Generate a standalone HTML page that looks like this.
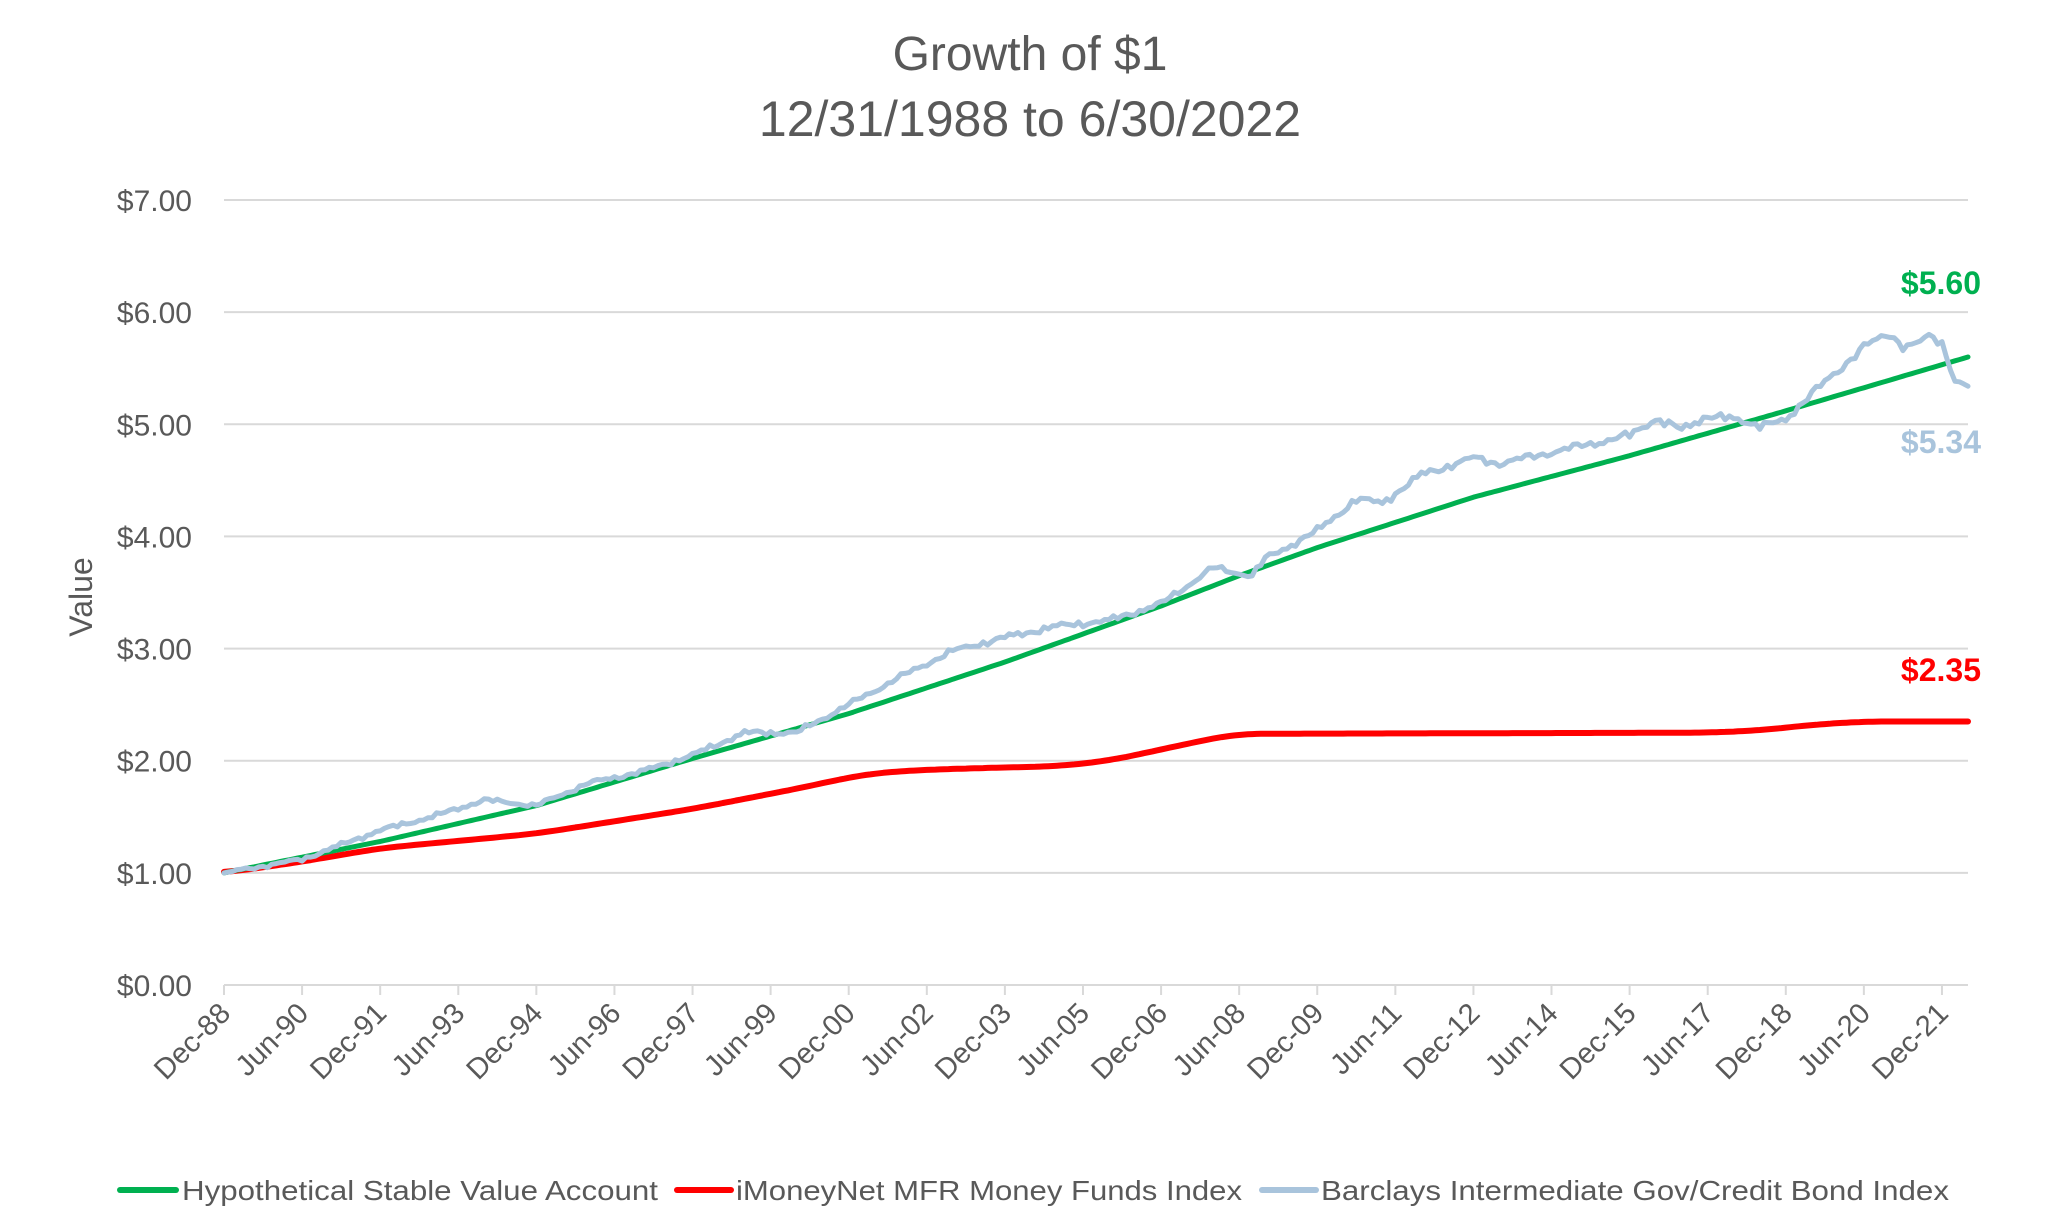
<!DOCTYPE html>
<html><head><meta charset="utf-8"><style>
html,body{margin:0;padding:0;background:#fff;}
svg{display:block;font-family:"Liberation Sans",sans-serif;}
</style></head><body>
<svg id="s" width="2048" height="1229" xmlns="http://www.w3.org/2000/svg">
<rect width="2048" height="1229" fill="#fff"/>
<text x="1030" y="70" text-anchor="middle" font-size="48" fill="#595959">Growth of $1</text>
<text x="1030" y="136" text-anchor="middle" font-size="50" fill="#595959">12/31/1988 to 6/30/2022</text>
<g id="grid" stroke="#d9d9d9" stroke-width="2"></g>
<g id="ylab" font-size="30" fill="#595959" text-anchor="end"></g>
<g id="xlab" font-size="29" fill="#595959" text-anchor="end"></g>
<text transform="translate(92,597) rotate(-90)" text-anchor="middle" font-size="32" fill="#595959">Value</text>
<g id="series" fill="none" stroke-linejoin="round" stroke-linecap="round"></g>
<text x="1981" y="294" text-anchor="end" font-size="32" font-weight="bold" fill="#00b050">$5.60</text>
<text x="1981" y="453" text-anchor="end" font-size="32" font-weight="bold" fill="#a9c4dc">$5.34</text>
<text x="1981" y="681" text-anchor="end" font-size="32" font-weight="bold" fill="#ff0000">$2.35</text>
<g font-size="28" fill="#595959">
<line x1="120" y1="1190" x2="176" y2="1190" stroke="#00b050" stroke-width="6" stroke-linecap="round"/>
<text x="182" y="1200" textLength="476" lengthAdjust="spacingAndGlyphs">Hypothetical Stable Value Account</text>
<line x1="677" y1="1190" x2="731" y2="1190" stroke="#ff0000" stroke-width="6" stroke-linecap="round"/>
<text x="736" y="1200" textLength="506" lengthAdjust="spacingAndGlyphs">iMoneyNet MFR Money Funds Index</text>
<line x1="1262" y1="1190" x2="1316" y2="1190" stroke="#a9c4dc" stroke-width="6" stroke-linecap="round"/>
<text x="1321" y="1200" textLength="628" lengthAdjust="spacingAndGlyphs">Barclays Intermediate Gov/Credit Bond Index</text>
</g>
</svg>
<script>
var L=224,R=1968,T=200,B=985,N=402;
function X(m){return L+m/N*(R-L);}
function Y(v){return B-v/7*(B-T);}
var ns="http://www.w3.org/2000/svg";
function el(p,t,a,txt){var e=document.createElementNS(ns,t);for(var k in a)e.setAttribute(k,a[k]);if(txt)e.textContent=txt;document.getElementById(p).appendChild(e);return e;}
for(var i=0;i<=7;i++){el("grid","line",{x1:L,x2:R,y1:Y(i),y2:Y(i)});
 el("ylab","text",{x:192,y:Y(i)+11},"$"+i+".00");}
var names=["Dec-88","Jun-90","Dec-91","Jun-93","Dec-94","Jun-96","Dec-97","Jun-99","Dec-00","Jun-02","Dec-03","Jun-05","Dec-06","Jun-08","Dec-09","Jun-11","Dec-12","Jun-14","Dec-15","Jun-17","Dec-18","Jun-20","Dec-21"];
for(var j=0;j<names.length;j++){var x=X(j*18);
 el("grid","line",{x1:x,x2:x,y1:B,y2:B+10});
 el("xlab","text",{x:x+8,y:B+30,transform:"rotate(-45 "+(x+8)+" "+(B+30)+")"},names[j]);}
function d(y,mo){return (y-1988)*12+(mo-12);}
function interp(pts,m){for(var i=1;i<pts.length;i++){if(m<=pts[i][0]){var a=pts[i-1],b=pts[i],t=(m-a[0])/(b[0]-a[0]);return a[1]+(b[1]-a[1])*t;}}return pts[pts.length-1][1];}
function smooth(pts,m,w){var s=0,c=0;for(var k=-w;k<=w;k++){var mm=Math.min(N,Math.max(0,m+k));s+=interp(pts,mm);c++;}return s/c;}
var G=[[0,1],[d(1991,12),1.28],[d(1994,12),1.6],[d(1997,12),2.02],[d(2000,12),2.42],[d(2003,12),2.88],[d(2006,12),3.38],[d(2008,6),3.65],[d(2009,12),3.9],[d(2012,12),4.35],[d(2015,12),4.72],[d(2018,12),5.12],[N,5.6]];
var Rd=[[0,1],[d(1990,6),1.1],[d(1991,12),1.22],[d(1994,12),1.35],[d(1997,12),1.57],[d(1999,12),1.75],[d(2000,12),1.85],[d(2001,6),1.89],[d(2002,6),1.92],[d(2003,12),1.94],[d(2004,12),1.95],[d(2005,12),2.0],[d(2006,12),2.1],[d(2007,12),2.2],[d(2008,6),2.24],[d(2017,6),2.25],[d(2018,6),2.27],[d(2019,6),2.32],[d(2020,6),2.35],[N,2.35]];
var Bl=[[0,1],[d(1990,6),1.12],[d(1991,12),1.38],[d(1992,12),1.5],[d(1993,12),1.65],[d(1994,12),1.6],[d(1995,12),1.8],[d(1996,12),1.9],[d(1997,12),2.05],[d(1998,12),2.25],[d(1999,12),2.25],[d(2000,12),2.5],[d(2001,12),2.75],[d(2002,12),2.98],[d(2003,12),3.1],[d(2004,12),3.2],[d(2005,12),3.25],[d(2006,12),3.4],[d(2007,12),3.72],[d(2008,9),3.65],[d(2008,12),3.8],[d(2009,12),4.05],[d(2010,9),4.33],[d(2011,3),4.3],[d(2011,12),4.55],[d(2012,12),4.7],[d(2013,6),4.65],[d(2014,12),4.8],[d(2015,12),4.9],[d(2016,6),5.05],[d(2016,12),4.95],[d(2017,6),5.08],[d(2018,6),5.0],[d(2018,12),5.02],[d(2019,6),5.3],[d(2019,12),5.45],[d(2020,6),5.72],[d(2020,12),5.78],[d(2021,3),5.7],[d(2021,9),5.78],[d(2021,12),5.7],[d(2022,3),5.4],[N,5.34]];
function path(pts,noise,w){var s="";for(var m=0;m<=N;m++){var v=w?smooth(pts,m,w):interp(pts,m);if(noise&&m>2&&m<N-1)v+=noise*(Math.sin(m*1.7)*0.6+Math.sin(m*0.53)*0.8+Math.sin(m*3.1)*0.5+Math.sin(m*2.3+1)*0.5)*(0.5+v/6);s+=(m?"L":"M")+X(m).toFixed(1)+" "+Y(v).toFixed(1);}return s;}
el("series","path",{d:path(Rd,0,6),stroke:"#ff0000","stroke-width":6});
el("series","path",{d:path(G,0,0),stroke:"#00b050","stroke-width":5});
el("series","path",{d:path(Bl,0.016,0),stroke:"#a9c4dc","stroke-width":5});
</script>
</body></html>
